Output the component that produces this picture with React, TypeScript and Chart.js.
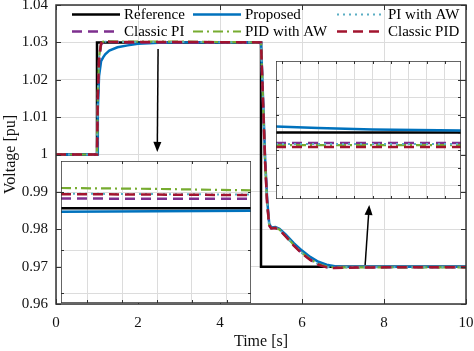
import React, { useEffect, useRef } from "react";
import { Chart, registerables } from "chart.js";
Chart.register(...registerables);

// ---------- main axes ----------
const xTickValues = [0, 2, 4, 6, 8, 10];
const yTickValues = [0.96, 0.97, 0.98, 0.99, 1.0, 1.01, 1.02, 1.03, 1.04];
const yTickLabels = ["0.96", "0.97", "0.98", "0.99", "1", "1.01", "1.02", "1.03", "1.04"];
const seriesNames = ["Reference", "Proposed", "PI with AW", "Classic PI", "PID with AW", "Classic PID"];

// ---------- main data ----------
const refTime = [0, 1, 1, 5, 5, 10];
const refValues = [1, 1, 1.03, 1.03, 0.97, 0.97];

const simTime = [0, 1, 1.02, 1.05, 1.1, 1.15, 1.2, 1.3, 1.5, 1.75, 2, 2.5, 3,
  5, 5.05, 5.1, 5.15, 5.2, 5.25, 5.35, 5.45, 5.6, 5.8,
  6, 6.2, 6.4, 6.6, 6.8, 7, 8, 10];
const proposed = [1, 1, 1.012, 1.021, 1.025, 1.026, 1.0268, 1.0278, 1.0287, 1.0292, 1.0296, 1.0299, 1.03,
  1.03, 1.015, 0.999, 0.988, 0.9815, 0.9805, 0.9806, 0.9801, 0.9786, 0.9763,
  0.9743, 0.9726, 0.9713, 0.9705, 0.9701, 0.97, 0.97, 0.97];
const piAW = [1, 1, 1.016, 1.026, 1.0297, 1.0301, 1.0302, 1.0302, 1.0301, 1.0301, 1.0301, 1.0301, 1.0301,
  1.03, 1.014, 0.998, 0.987, 0.981, 0.9803, 0.9804, 0.9799, 0.9782, 0.9757,
  0.9736, 0.9719, 0.9706, 0.9699, 0.9697, 0.9698, 0.9698, 0.9698];
const classicPI = [1, 1, 1.015, 1.025, 1.0295, 1.03, 1.0301, 1.0301, 1.0301, 1.03, 1.03, 1.03, 1.03,
  1.03, 1.014, 0.998, 0.987, 0.981, 0.9803, 0.9804, 0.9799, 0.9782, 0.9757,
  0.9736, 0.9719, 0.9706, 0.9699, 0.9697, 0.9698, 0.9698, 0.9698];
const pidAW = [1, 1, 1.016, 1.026, 1.0298, 1.0302, 1.0303, 1.0303, 1.0302, 1.0302, 1.0302, 1.0302, 1.0302,
  1.03, 1.014, 0.998, 0.987, 0.981, 0.9803, 0.9804, 0.9799, 0.9782, 0.9758,
  0.9737, 0.972, 0.9707, 0.97, 0.9698, 0.9698, 0.9698, 0.9698];
const classicPID = [1, 1, 1.016, 1.026, 1.0298, 1.0302, 1.0303, 1.0302, 1.0301, 1.0301, 1.0301, 1.0301, 1.0301,
  1.03, 1.014, 0.998, 0.987, 0.981, 0.9802, 0.9803, 0.9798, 0.9781, 0.9756,
  0.9735, 0.9718, 0.9705, 0.9698, 0.9696, 0.9697, 0.9698, 0.9698];

// arrows (data coordinates: [time, voltage])
const arrowDownFrom = [2.49, 1.0282];
const arrowDownTo = [2.47, 1.0007];
const arrowUpFrom = [7.54, 0.97044];
const arrowUpTo = [7.64, 0.9865];

// ---------- inset 1 (plateau zoom) ----------
const inset1X = [-0.75, 2, 4.69];
const inset1XGrid = [0, 1, 2, 3, 4];
const inset1YGrid = [1.02821, 1.02911, 1.03034];
const inset1Ref = [1.03, 1.03, 1.03];
const inset1Proposed = [1.02993, 1.02994, 1.02995];
const inset1PIAW = [1.03031, 1.0303, 1.03029];
const inset1ClassicPI = [1.03021, 1.0302, 1.0302];
const inset1PIDAW = [1.03043, 1.03041, 1.03038];
const inset1ClassicPID = [1.0303, 1.03029, 1.03028];

// ---------- inset 2 (final value zoom) ----------
const inset2X = [-0.333, 2, 5, 9.889];
const inset2XGrid = [0, 1, 2, 3, 4, 5, 6, 7, 8, 9];
const inset2YGrid = [0.96895, 0.9693, 0.96965, 0.97, 0.97035, 0.9707, 0.97105];
const inset2Ref = [0.97, 0.97, 0.97, 0.97];
const inset2Proposed = [0.97012, 0.97009, 0.97006, 0.97004];
const inset2PIAW = [0.96977, 0.96977, 0.96977, 0.96977];
const inset2ClassicPI = [0.96979, 0.96979, 0.96979, 0.96979];
const inset2PIDAW = [0.96975, 0.96975, 0.96975, 0.96975];
const inset2ClassicPID = [0.96971, 0.96971, 0.96971, 0.96971];

// ---------- styles ----------
const SERIF = "'Liberation Serif', 'Times New Roman', serif";
const GRID = "#dcdcdc";
const FRAME = "#333333";
const colors = ["#000000", "#0072BD", "#5aaec4", "#7E2F8E", "#77AC30", "#A2142F"];
const dashes = [[], [], [2, 4], [10, 6], [10, 4, 2, 4], [10, 6]];
const widths = [2.5, 2.5, 2, 2.5, 2.2, 2.5];
const orders = [6, 5, 1, 3, 2, 0];

function pts(xs: number[], ys: number[]) {
  return xs.map((x, i) => ({ x, y: ys[i] }));
}

function makeDatasets(series: { x: number[]; y: number[] }[]) {
  return series.map((s, i) => ({
    label: seriesNames[i],
    data: pts(s.x, s.y),
    borderColor: colors[i],
    backgroundColor: colors[i],
    borderDash: dashes[i],
    borderWidth: widths[i],
    pointRadius: 0,
    fill: false,
    tension: 0,
    order: orders[i],
  }));
}

const frameTicksPlugin = (len: number) => ({
  id: "frameTicks",
  afterDraw(chart: any) {
    const { ctx, chartArea: a, scales } = chart;
    ctx.save();
    ctx.strokeStyle = FRAME;
    ctx.lineWidth = 1;
    ctx.beginPath();
    scales.x.ticks.forEach((t: any) => {
      const px = Math.round(scales.x.getPixelForValue(t.value)) + 0.5;
      ctx.moveTo(px, a.bottom); ctx.lineTo(px, a.bottom - len);
      ctx.moveTo(px, a.top); ctx.lineTo(px, a.top + len);
    });
    scales.y.ticks.forEach((t: any) => {
      const py = Math.round(scales.y.getPixelForValue(t.value)) + 0.5;
      ctx.moveTo(a.left, py); ctx.lineTo(a.left + len, py);
      ctx.moveTo(a.right, py); ctx.lineTo(a.right - len, py);
    });
    ctx.stroke();
    ctx.lineWidth = 1.5;
    ctx.strokeRect(a.left, a.top, a.right - a.left, a.bottom - a.top);
    ctx.restore();
  },
});

const legendPlugin = {
  id: "gridLegend",
  afterDraw(chart: any) {
    const { ctx, chartArea: a } = chart;
    const colX = [16, 137, 281];
    const textX = [68, 189, 332];
    const rowY = [9.5, 26.5];
    const lineLen = 48;
    ctx.save();
    ctx.font = `15px ${SERIF}`;
    ctx.textBaseline = "middle";
    ctx.fillStyle = "#000";
    const orderIdx = [0, 1, 2, 3, 4, 5];
    orderIdx.forEach((i) => {
      const ds = chart.data.datasets[i];
      const c = i % 3, r = Math.floor(i / 3);
      const y = a.top + rowY[r];
      ctx.strokeStyle = ds.borderColor;
      ctx.lineWidth = ds.borderWidth;
      ctx.setLineDash(ds.borderDash);
      ctx.beginPath();
      ctx.moveTo(a.left + colX[c], y);
      ctx.lineTo(a.left + colX[c] + lineLen, y);
      ctx.stroke();
      ctx.setLineDash([]);
      ctx.fillText(ds.label, a.left + textX[c], y + 1);
    });
    ctx.restore();
  },
};

function drawArrow(ctx: any, x0: number, y0: number, x1: number, y1: number) {
  const ang = Math.atan2(y1 - y0, x1 - x0);
  const hl = 10, hw = 4;
  const bx = x1 - hl * Math.cos(ang), by = y1 - hl * Math.sin(ang);
  ctx.beginPath();
  ctx.moveTo(x0, y0);
  ctx.lineTo(bx, by);
  ctx.stroke();
  ctx.beginPath();
  ctx.moveTo(x1, y1);
  ctx.lineTo(bx + hw * Math.sin(ang), by - hw * Math.cos(ang));
  ctx.lineTo(bx - hw * Math.sin(ang), by + hw * Math.cos(ang));
  ctx.closePath();
  ctx.fill();
}

const arrowPlugin = {
  id: "arrows",
  afterDraw(chart: any) {
    const { ctx, scales } = chart;
    const X = (v: number) => scales.x.getPixelForValue(v);
    const Y = (v: number) => scales.y.getPixelForValue(v);
    ctx.save();
    ctx.strokeStyle = "#000";
    ctx.fillStyle = "#000";
    ctx.lineWidth = 1.5;
    drawArrow(ctx, X(arrowDownFrom[0]), Y(arrowDownFrom[1]), X(arrowDownTo[0]), Y(arrowDownTo[1]));
    drawArrow(ctx, X(arrowUpFrom[0]), Y(arrowUpFrom[1]), X(arrowUpTo[0]), Y(arrowUpTo[1]));
    ctx.restore();
  },
};

function MainChart() {
  const ref = useRef<HTMLCanvasElement>(null);
  useEffect(() => {
    const series = [
      { x: refTime, y: refValues },
      { x: simTime, y: proposed },
      { x: simTime, y: piAW },
      { x: simTime, y: classicPI },
      { x: simTime, y: pidAW },
      { x: simTime, y: classicPID },
    ];
    const chart = new Chart(ref.current!, {
      type: "line",
      data: { datasets: makeDatasets(series) as any },
      options: {
        animation: false,
        responsive: false,
        devicePixelRatio: 1,
        layout: { padding: { left: 0, right: 8, top: 5, bottom: 0 } },
        plugins: { legend: { display: false }, tooltip: { enabled: false } },
        scales: {
          x: {
            type: "linear",
            min: 0,
            max: 10,
            afterBuildTicks: (s: any) => { s.ticks = xTickValues.map((v) => ({ value: v })); },
            afterFit: (s: any) => { s.height = 47; s.paddingLeft = 0; s.paddingRight = 0; },
            grid: { color: GRID, lineWidth: 1, drawTicks: false },
            border: { display: false },
            ticks: { padding: 10, color: "#111", font: { family: SERIF, size: 15 }, maxRotation: 0, autoSkip: false },
            title: { display: true, text: "Time [s]", color: "#111", font: { family: SERIF, size: 16 }, padding: 0 },
          },
          y: {
            type: "linear",
            min: 0.96,
            max: 1.04,
            afterBuildTicks: (s: any) => { s.ticks = yTickValues.map((v) => ({ value: v })); },
            afterFit: (s: any) => { s.width = 56; s.paddingTop = 0; s.paddingBottom = 0; },
            grid: { color: GRID, lineWidth: 1, drawTicks: false },
            border: { display: false },
            ticks: {
              padding: 8,
              color: "#111",
              font: { family: SERIF, size: 15 },
              autoSkip: false,
              callback: (_v: any, i: number) => yTickLabels[i],
            },
            title: { display: true, text: "Voltage [pu]", color: "#111", font: { family: SERIF, size: 16 }, padding: { top: 1, bottom: 0 } },
          },
        },
      } as any,
      plugins: [frameTicksPlugin(5), legendPlugin, arrowPlugin],
    });
    return () => chart.destroy();
  }, []);
  return <canvas ref={ref} width={474} height={351} style={{ position: "absolute", left: 0, top: 0 }} />;
}

function InsetChart(props: {
  left: number; top: number; width: number; height: number;
  x: number[]; ys: number[][]; xGrid: number[]; yGrid: number[];
  yMin: number; yMax: number; lineScale: number;
}) {
  const ref = useRef<HTMLCanvasElement>(null);
  useEffect(() => {
    const series = props.ys.map((y) => ({ x: props.x, y }));
    const ds = makeDatasets(series).map((d: any, i: number) => ({ ...d, borderWidth: widths[i] * props.lineScale }));
    const chart = new Chart(ref.current!, {
      type: "line",
      data: { datasets: ds as any },
      options: {
        animation: false,
        responsive: false,
        devicePixelRatio: 1,
        layout: { padding: 0 },
        plugins: { legend: { display: false }, tooltip: { enabled: false } },
        scales: {
          x: {
            type: "linear",
            min: props.x[0],
            max: props.x[props.x.length - 1],
            afterBuildTicks: (s: any) => { s.ticks = props.xGrid.map((v) => ({ value: v })); },
            afterFit: (s: any) => { s.height = 0; s.paddingLeft = 0; s.paddingRight = 0; },
            grid: { color: GRID, lineWidth: 1, drawTicks: false },
            border: { display: false },
            ticks: { display: false },
          },
          y: {
            type: "linear",
            min: props.yMin,
            max: props.yMax,
            afterBuildTicks: (s: any) => { s.ticks = props.yGrid.map((v) => ({ value: v })); },
            afterFit: (s: any) => { s.width = 0; s.paddingTop = 0; s.paddingBottom = 0; },
            grid: { color: GRID, lineWidth: 1, drawTicks: false },
            border: { display: false },
            ticks: { display: false },
          },
        },
      } as any,
      plugins: [frameTicksPlugin(3)],
    });
    return () => chart.destroy();
  }, []);
  return (
    <canvas
      ref={ref}
      width={props.width}
      height={props.height}
      style={{ position: "absolute", left: props.left, top: props.top, background: "#fff" }}
    />
  );
}

export default function App() {
  return (
    <div style={{ position: "fixed", left: 0, top: 0, width: 474, height: 351, background: "#fff", overflow: "hidden" }}>
      <MainChart />
      <InsetChart
        left={61} top={161} width={190} height={142}
        x={inset1X}
        ys={[inset1Ref, inset1Proposed, inset1PIAW, inset1ClassicPI, inset1PIDAW, inset1ClassicPID]}
        xGrid={inset1XGrid} yGrid={inset1YGrid}
        yMin={1.028} yMax={1.031} lineScale={1}
      />
      <InsetChart
        left={276} top={61} width={185} height={138}
        x={inset2X}
        ys={[inset2Ref, inset2Proposed, inset2PIAW, inset2ClassicPI, inset2PIDAW, inset2ClassicPID]}
        xGrid={inset2XGrid} yGrid={inset2YGrid}
        yMin={0.96868} yMax={0.97142} lineScale={1}
      />
    </div>
  );
}
